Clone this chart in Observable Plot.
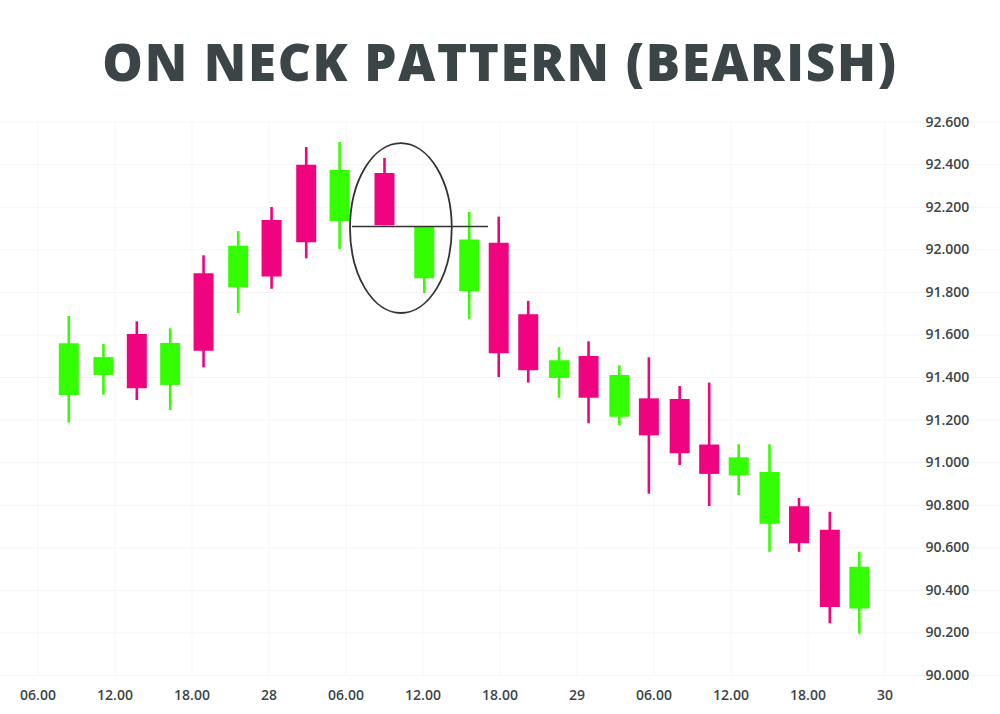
<!DOCTYPE html>
<html>
<head>
<meta charset="utf-8">
<script src="https://cdn.jsdelivr.net/npm/d3@7"></script>
<script src="https://cdn.jsdelivr.net/npm/@observablehq/plot@0.6"></script>
<style>
  html, body { margin: 0; padding: 0; background: #ffffff; }
  #title {
    font-family: "Open Sans", sans-serif; font-weight: 800; font-size: 51px;
    line-height: 51px; color: #3b4547; text-align: center;
    padding-top: 36px; height: 64px; letter-spacing: 1.7px;
  }
  #chart svg { display: block; }
</style>
</head>
<body>
<div id="title">ON NECK PATTERN (BEARISH)</div>
<div id="chart"></div>
<script>
// Time in hours from the first "06.00" tick
const times = [2.4, 5.1, 7.7, 10.3, 12.9, 15.6, 18.2, 20.9, 23.5, 27.0, 30.1, 33.6, 35.9, 38.2, 40.6, 42.9, 45.3, 47.6, 50.0, 52.3, 54.6, 57.0, 59.3, 61.7, 64.0];
const opens  = [91.316, 91.410, 91.602, 91.363, 91.888, 91.822, 92.138, 92.398, 92.133, 92.359, 91.864, 91.803, 92.031, 91.695, 91.396, 91.499, 91.214, 91.300, 91.297, 91.083, 90.938, 90.711, 90.793, 90.683, 90.313];
const highs  = [91.687, 91.555, 91.662, 91.629, 91.972, 92.086, 92.199, 92.481, 92.505, 92.430, 92.110, 92.176, 92.154, 91.758, 91.541, 91.568, 91.455, 91.493, 91.358, 91.374, 91.084, 91.084, 90.832, 90.767, 90.579];
const lows   = [91.186, 91.317, 91.292, 91.245, 91.446, 91.701, 91.815, 91.958, 92.002, 92.113, 91.795, 91.674, 91.400, 91.374, 91.303, 91.183, 91.173, 90.852, 90.987, 90.794, 90.846, 90.579, 90.579, 90.243, 90.194];
const closes = [91.559, 91.494, 91.347, 91.560, 91.524, 92.017, 91.872, 92.033, 92.373, 92.113, 92.110, 92.046, 91.512, 91.432, 91.479, 91.303, 91.410, 91.126, 91.042, 90.945, 91.023, 90.954, 90.619, 90.320, 90.509];

const xTicks = [0, 6, 12, 18, 24, 30, 36, 42, 48, 54, 60, 66];
const xTickLabels = ["06.00", "12.00", "18.00", "28", "06.00", "12.00", "18.00", "29", "06.00", "12.00", "18.00", "30"];
const yTicks = [90.0, 90.2, 90.4, 90.6, 90.8, 91.0, 91.2, 91.4, 91.6, 91.8, 92.0, 92.2, 92.4, 92.6];

// Annotation: neckline and highlight ellipse (data units)
const neckline = [{value: 92.11, t1: 24.5, t2: 35.1}];
const highlightBox = [{t1: 24.35, t2: 32.28, lo: 91.701, hi: 92.499}];

const candles = times.map((t, i) => ({
  t, open: opens[i], high: highs[i], low: lows[i], close: closes[i],
  up: closes[i] >= opens[i]
}));

const GREEN = "#33ff00";
const PINK = "#f0037f";

const ellipseMark = (index, scales, values, dimensions, context) => {
  const b = highlightBox[0];
  const x1 = scales.x(b.t1), x2 = scales.x(b.t2);
  const y1 = scales.y(b.hi), y2 = scales.y(b.lo);
  const el = d3.create("svg:ellipse")
    .attr("cx", (x1 + x2) / 2).attr("cy", (y1 + y2) / 2)
    .attr("rx", Math.abs(x2 - x1) / 2).attr("ry", Math.abs(y2 - y1) / 2)
    .attr("fill", "none").attr("stroke", "#333333").attr("stroke-width", 1.8);
  return el.node();
};

const chart = Plot.plot({
  width: 1000,
  height: 614,
  marginTop: 21.7,
  marginBottom: 39,
  marginLeft: 0,
  marginRight: 0,
  style: {fontFamily: "'Open Sans', sans-serif", fontSize: "14px", fontWeight: 600, color: "#3d4648", background: "#ffffff"},
  x: {domain: [0, 66], range: [37.5, 884.5]},
  y: {domain: [90, 92.6]},
  marks: [
    Plot.ruleY(yTicks, {stroke: "#f5f5f5", strokeWidth: 1}),
    Plot.ruleX(xTicks, {stroke: "#f7f7f7", strokeWidth: 1}),
    Plot.axisY(yTicks, {anchor: "right", tickSize: 0, tickPadding: 0, dx: -75, textAnchor: "start", tickFormat: d3.format(".3f"), label: null}),
    Plot.axisX(xTicks, {anchor: "bottom", tickSize: 0, tickPadding: 15, tickFormat: (d, i) => xTickLabels[i], label: null}),
    Plot.ruleX(candles, {x: "t", y1: "low", y2: "high", stroke: d => d.up ? GREEN : PINK, strokeWidth: 2.6}),
    Plot.ruleX(candles, {x: "t", y1: "open", y2: "close", stroke: d => d.up ? GREEN : PINK, strokeWidth: 20}),
    Plot.ruleY(neckline, {y: "value", x1: "t1", x2: "t2", stroke: "#333333", strokeWidth: 1.5}),
    ellipseMark
  ]
});
document.getElementById("chart").appendChild(chart);
</script>
</body>
</html>
